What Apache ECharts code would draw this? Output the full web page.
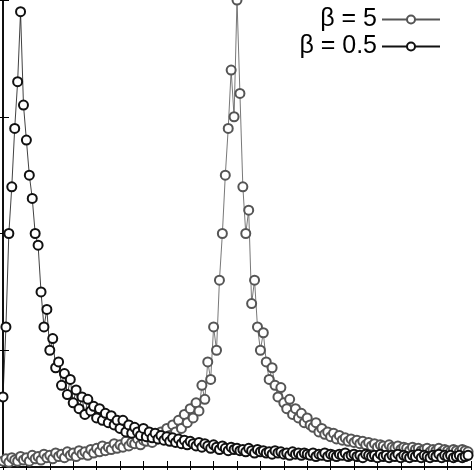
<!DOCTYPE html>
<html><head><meta charset="utf-8">
<script src="https://cdn.jsdelivr.net/npm/echarts@6/dist/echarts.min.js"></script>
<style>html,body{margin:0;padding:0;background:#fff}#c{width:474px;height:470px}</style>
</head><body><div id="c"></div>
<script>
const seriesNames = ["β = 5", "β = 0.5"];
const beta05 = [
0.6,1.2,2.0,2.4,2.9,3.3,3.9,3.1,2.8,2.5,2.3,2.0,1.9,1.5,1.2,1.35,1.0,1.1,0.85,0.9,
0.7,0.8,0.62,0.75,0.55,0.66,0.5,0.6,0.45,0.58,0.48,0.52,0.42,0.5,0.4,0.46,0.38,0.44,0.36,0.4,
0.33,0.4,0.3,0.36,0.29,0.34,0.3,0.27,0.33,0.26,0.3,0.25,0.29,0.24,0.27,0.23,0.26,0.22,0.25,0.21,
0.24,0.2,0.23,0.19,0.22,0.2,0.18,0.21,0.17,0.2,0.18,0.16,0.19,0.17,0.15,0.18,0.16,0.14,0.17,0.15,
0.16,0.14,0.15,0.13,0.16,0.14,0.12,0.15,0.13,0.14,0.12,0.13,0.11,0.14,0.12,0.13,0.11,0.12,0.1,0.13,
0.11,0.12,0.1,0.12,0.11,0.1,0.12,0.09,0.11,0.1,0.12,0.09,0.11,0.1,0.09,0.11,0.1,0.12,0.09,0.1,
0.11,0.09,0.1,0.08,0.11,0.1,0.09,0.1,0.08,0.11,0.09,0.1,0.08,0.1,0.09,0.11,0.08,0.1,0.09,0.08,
0.1,0.09,0.11,0.08,0.1,0.09,0.08,0.1,0.09,0.11,0.08,0.1,0.09,0.1,0.08,0.09,0.1,0.08,0.09,0.1
];
const beta5 = [
0.05,0.07,0.04,0.08,0.06,0.05,0.09,0.06,0.08,0.05,0.1,0.07,0.09,0.06,0.11,0.08,0.1,0.07,0.12,0.09,
0.11,0.08,0.13,0.1,0.12,0.09,0.14,0.11,0.13,0.1,0.15,0.12,0.16,0.13,0.18,0.14,0.17,0.15,0.2,0.16,
0.19,0.17,0.22,0.18,0.21,0.2,0.24,0.19,0.23,0.22,0.26,0.21,0.28,0.24,0.3,0.25,0.33,0.27,0.36,0.3,
0.4,0.33,0.45,0.38,0.5,0.42,0.55,0.48,0.7,0.58,0.9,0.75,1.2,1.0,1.6,2.0,2.5,2.9,3.4,3.0,
4.0,3.2,2.4,2.0,2.2,1.4,1.6,1.2,1.0,1.15,0.9,0.75,0.85,0.7,0.6,0.68,0.55,0.5,0.58,0.45,
0.5,0.42,0.46,0.38,0.42,0.36,0.34,0.38,0.3,0.33,0.28,0.3,0.26,0.29,0.24,0.27,0.23,0.25,0.22,0.24,
0.21,0.23,0.2,0.22,0.19,0.21,0.18,0.2,0.17,0.19,0.18,0.16,0.19,0.17,0.16,0.18,0.15,0.17,0.16,0.14,
0.17,0.15,0.16,0.14,0.15,0.16,0.13,0.15,0.14,0.16,0.13,0.15,0.14,0.13,0.15,0.14,0.13,0.15,0.14,0.13
];
const toPts = a => a.map((v,i)=>[i,v]);
const chart = echarts.init(document.getElementById('c'));
const axBase = {type:'value',min:0,max:160,interval:8,axisLabel:{show:false},splitLine:{show:false},
  axisLine:{lineStyle:{color:'#000',width:1.5}},axisTick:{inside:true,length:6,lineStyle:{color:'#000'}}};
const ayBase = {type:'value',min:0,max:4,interval:1,axisLabel:{show:false},splitLine:{show:false},
  axisLine:{lineStyle:{color:'#000',width:1.5}},axisTick:{inside:true,length:6,lineStyle:{color:'#000'}}};
chart.setOption({
  animation:false,
  grid:{left:3,right:3,top:0,bottom:3},
  xAxis:[Object.assign({position:'bottom'},axBase),Object.assign({position:'top'},axBase)],
  yAxis:[Object.assign({position:'left'},ayBase),Object.assign({position:'right'},ayBase)],
  legend:{right:28,top:2,orient:'vertical',align:'right',itemWidth:58,itemHeight:10,itemGap:2,
    textStyle:{fontSize:25,color:'#000',fontFamily:'Liberation Sans'},
    data:seriesNames},
  series:[
    {name:seriesNames[0],type:'line',data:toPts(beta5),symbol:'emptyCircle',symbolSize:9,
     itemStyle:{color:'#555',borderWidth:0.8},lineStyle:{color:'#555',width:0.8}},
    {name:seriesNames[1],type:'line',data:toPts(beta05),symbol:'emptyCircle',symbolSize:9,
     itemStyle:{color:'#111',borderWidth:0.8},lineStyle:{color:'#111',width:0.8}}
  ]
});
</script></body></html>
